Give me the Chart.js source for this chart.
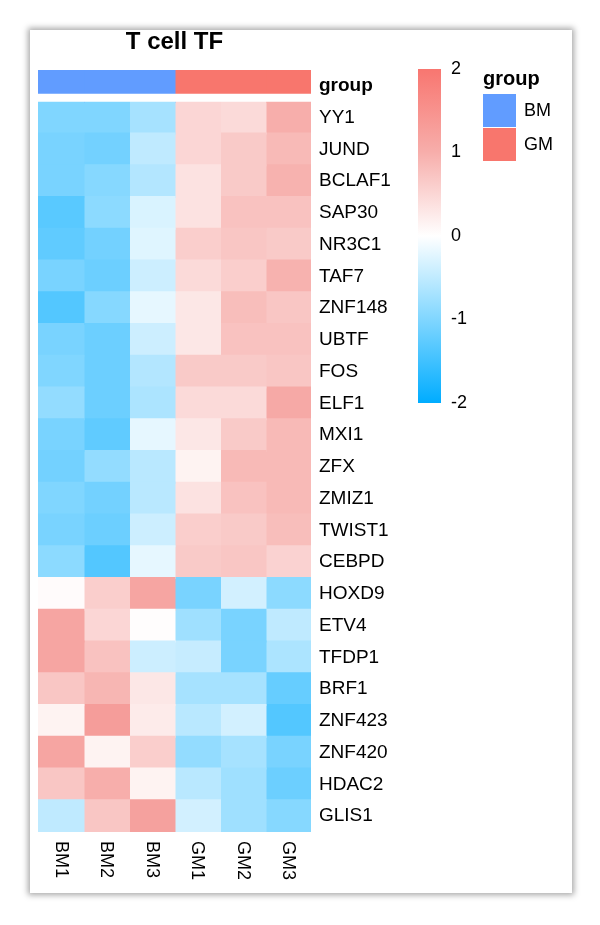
<!DOCTYPE html>
<html><head><meta charset="utf-8">
<script src="https://cdn.jsdelivr.net/npm/chart.js@4"></script>
<style>
html,body{margin:0;padding:0;background:#fff;}
#card{position:absolute;left:30px;top:30px;width:542px;height:863px;background:#fff;box-shadow:0 0 6px 2px rgba(0,0,0,0.35);}
#wrap{position:absolute;left:0;top:0;width:600px;height:925px;}
</style></head><body>
<div id="card"></div>
<div id="wrap"><canvas id="c" width="600" height="925"></canvas></div>
<script>
const samples = ['BM1','BM2','BM3','GM1','GM2','GM3'];
const groups = ['BM','BM','BM','GM','GM','GM'];
const genes = ['YY1','JUND','BCLAF1','SAP30','NR3C1','TAF7','ZNF148','UBTF','FOS','ELF1','MXI1','ZFX','ZMIZ1','TWIST1','CEBPD','HOXD9','ETV4','TFDP1','BRF1','ZNF423','ZNF420','HDAC2','GLIS1'];
const values = [
[-1.0,-1.0,-0.7,0.5,0.45,1.0],
[-1.05,-1.1,-0.5,0.5,0.65,0.85],
[-1.05,-0.95,-0.6,0.35,0.65,0.95],
[-1.3,-0.9,-0.3,0.35,0.75,0.75],
[-1.25,-1.1,-0.25,0.6,0.7,0.65],
[-1.05,-1.15,-0.4,0.45,0.6,0.95],
[-1.35,-0.95,-0.2,0.3,0.8,0.7],
[-1.05,-1.15,-0.4,0.3,0.75,0.75],
[-1.0,-1.15,-0.6,0.65,0.65,0.7],
[-0.85,-1.15,-0.65,0.45,0.45,1.05],
[-1.05,-1.25,-0.2,0.3,0.65,0.85],
[-1.1,-0.85,-0.55,0.15,0.85,0.85],
[-1.0,-1.1,-0.55,0.35,0.75,0.85],
[-1.05,-1.15,-0.4,0.6,0.65,0.8],
[-0.9,-1.35,-0.2,0.65,0.7,0.55],
[0.05,0.6,1.1,-1.05,-0.35,-0.9],
[1.1,0.5,0.02,-0.75,-1.05,-0.5],
[1.1,0.75,-0.4,-0.45,-1.05,-0.65],
[0.7,0.9,0.3,-0.7,-0.7,-1.2],
[0.15,1.2,0.25,-0.55,-0.35,-1.35],
[1.1,0.15,0.6,-0.85,-0.7,-1.05],
[0.7,1.0,0.15,-0.55,-0.75,-1.15],
[-0.5,0.7,1.15,-0.35,-0.75,-0.95]
];
const scaleTicks = [2,1,0,-1,-2];
const groupNames = ['BM','GM'];

const groupColor = {BM:'#619CFF', GM:'#F8766D'};
const LOW=[0,172,255], HIGH=[238,92,86];
function col(v){
  v=Math.max(-2,Math.min(2,v)); const t=Math.abs(v)/2; const e=v<0?LOW:HIGH;
  const c=e.map(x=>Math.round(255+(x-255)*t)); return `rgb(${c[0]},${c[1]},${c[2]})`;
}
const rows=['group',...genes];
const datasets=samples.map((s,j)=>({
  label:s,
  data:rows.map(()=>1),
  backgroundColor:rows.map((r,i)=>i===0?groupColor[groups[j]]:col(values[i-1][j])),
  borderWidth:0, borderSkipped:false, inflateAmount:1,
  barPercentage:1, categoryPercentage:1
}));

const extras={
  id:'extras',
  afterDatasetsDraw(chart){
    const ctx=chart.ctx, y=chart.scales.y, a=chart.chartArea;
    const b=(y.getPixelForValue(0)+y.getPixelForValue(1))/2;
    ctx.save(); ctx.fillStyle='#fff'; ctx.fillRect(a.left-2,b-8,a.right-a.left+4,8); ctx.restore();
  },
  afterDraw(chart){
    const ctx=chart.ctx, x=chart.scales.x, a=chart.chartArea;
    ctx.save();
    ctx.fillStyle='#000';
    ctx.font='bold 24px "Liberation Sans", Arial, sans-serif';
    ctx.textAlign='center'; ctx.textBaseline='middle';
    ctx.fillText('T cell TF',(a.left+a.right)/2,42);
    ctx.font='18px "Liberation Sans", Arial, sans-serif';
    samples.forEach((s,j)=>{
      ctx.save(); ctx.translate(x.getPixelForValue(j+0.5),a.bottom+9);
      ctx.rotate(Math.PI/2); ctx.textAlign='left'; ctx.textBaseline='middle';
      ctx.fillText(s,0,0); ctx.restore();
    });
    const top=69,bot=403,l=418,w=23;
    const g=ctx.createLinearGradient(0,top,0,bot);
    g.addColorStop(0,'rgb(248,118,112)');
    [1,0,-1].forEach((v,k)=>g.addColorStop((k+1)/4,col(v)));
    g.addColorStop(1,col(-2));
    ctx.fillStyle=g; ctx.fillRect(l,top,w,bot-top);
    ctx.fillStyle='#000'; ctx.font='18px "Liberation Sans", Arial, sans-serif';
    ctx.textAlign='left';
    scaleTicks.forEach(v=>{ctx.fillText(String(v),451,top+(2-v)/4*(bot-top));});
    ctx.font='bold 20px "Liberation Sans", Arial, sans-serif';
    ctx.fillText('group',483,79);
    ctx.font='18px "Liberation Sans", Arial, sans-serif';
    groupNames.forEach((gn,k)=>{
      ctx.fillStyle=groupColor[gn]; ctx.fillRect(483,94+k*34,33,33);
      ctx.fillStyle='#000'; ctx.fillText(gn,524,111+k*34);
    });
    ctx.restore();
  }
};

new Chart(document.getElementById('c'),{
  type:'bar',
  data:{labels:rows,datasets},
  options:{
    indexAxis:'y', responsive:false, animation:false,
    layout:{padding:{left:38,top:70,bottom:93,right:0}},
    plugins:{legend:{display:false},tooltip:{enabled:false}},
    scales:{
      x:{type:'linear',min:0,max:6,stacked:true,display:false},
      y:{stacked:true,position:'right',grid:{display:false},border:{display:false},
         afterFit(s){s.width=289;},
         ticks:{padding:0,color:'#000',autoSkip:false,
           font:c=>({family:'"Liberation Sans", Arial, sans-serif',size:19,weight:c.index===0?'bold':'normal'}),
         }}
    }
  },
  plugins:[extras]
});
</script></body></html>
